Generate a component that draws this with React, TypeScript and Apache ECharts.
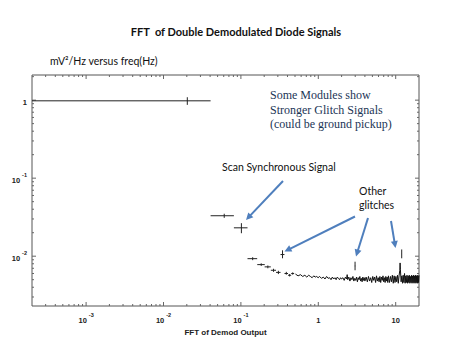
import React, { useEffect, useRef } from "react";
import * as echarts from "echarts";

// Axis ranges (Hz on x, mV^2/Hz on y, both logarithmic)
const X_MIN = 0.0002;
const X_MAX = 20;
const Y_MIN = 0.0023;
const Y_MAX = 2.1;
const BIN_HALF = 0.0203; // half bin width of the FFT (horizontal error bar)

// Low-frequency FFT bins with vertical error bars
const BIN_FREQ = [0.0203, 0.0609, 0.1015, 0.142, 0.183, 0.223, 0.264, 0.305, 0.345, 0.386, 0.426, 0.467];
const BIN_VAL = [0.98, 0.033, 0.0231, 0.0093, 0.0078, 0.0073, 0.0066, 0.0062, 0.0105, 0.006, 0.0057, 0.006];
const BIN_LO = [0.87, 0.031, 0.0197, 0.0089, 0.0075, 0.007, 0.0063, 0.0059, 0.0094, 0.0058, 0.0055, 0.0058];
const BIN_HI = [1.09, 0.035, 0.0265, 0.0097, 0.0081, 0.0076, 0.0069, 0.0065, 0.0119, 0.0063, 0.0059, 0.0062];

// Isolated glitch bins
const GLITCH_FREQ = [2.984, 11.96];
const GLITCH_VAL = [0.0075, 0.0107];
const GLITCH_LO = [0.0066, 0.0094];
const GLITCH_HI = [0.0085, 0.0122];

// Noise floor
const NOISE_FREQ = [
  0.507, 0.548, 0.588, 0.629, 0.67, 0.71, 0.751, 0.791, 0.832, 0.873, 0.913, 0.954, 0.994,
  1.04, 1.1, 1.16, 1.22, 1.28, 1.34, 1.4, 1.46, 1.52, 1.58, 1.64, 1.7, 1.76, 1.82, 1.88, 1.94, 2.0,
  2.08, 2.16, 2.24, 2.32, 2.36, 2.4, 2.48, 2.56, 2.64, 2.72, 2.8, 2.88, 2.96, 3.04, 3.12, 3.2, 3.28,
  3.36, 3.44, 3.52, 3.6, 3.68, 3.76, 3.84, 3.92, 4.0,
  4.15, 4.3, 4.45, 4.6, 4.75, 4.9, 5.05, 5.2, 5.35, 5.5, 5.65, 5.8, 5.95, 6.1, 6.25, 6.4, 6.55, 6.7,
  6.85, 7.0, 7.15, 7.3, 7.45, 7.6, 7.75, 7.9,
  8.05, 8.3, 8.55, 8.8, 9.05, 9.3, 9.55, 9.8, 10.05, 10.3, 10.55, 10.8, 11.05, 11.3, 11.4, 11.5, 11.75,
  12.0, 12.25, 12.5, 12.75, 13.0, 13.25, 13.5, 13.75, 14.0, 14.25, 14.5, 14.75, 15.0, 15.25, 15.5,
  15.75, 16.0, 16.25, 16.5, 16.75, 17.0, 17.25, 17.5, 17.75, 18.0, 18.25, 18.5, 18.75, 19.0, 19.25,
  19.5, 19.75, 20.0,
];
const NOISE_VAL = [
  0.0059, 0.0056, 0.0058, 0.0055, 0.0057, 0.0054, 0.0057, 0.0055, 0.0053, 0.0056, 0.0054, 0.0055, 0.0053,
  0.0055, 0.0052, 0.0054, 0.0051, 0.0055, 0.0052, 0.0053, 0.005, 0.0054, 0.0051, 0.0053, 0.005, 0.0054,
  0.0052, 0.005, 0.0053, 0.0051,
  0.0053, 0.0049, 0.0054, 0.0051, 0.0058, 0.005, 0.0054, 0.0048, 0.0053, 0.005, 0.0055, 0.0048, 0.0052,
  0.0049, 0.0054, 0.0047, 0.0053, 0.005, 0.0055, 0.0048, 0.0052, 0.0047, 0.0054, 0.0049, 0.0053, 0.0048,
  0.0054, 0.0047, 0.0055, 0.0048, 0.0053, 0.0046, 0.0055, 0.0049, 0.0054, 0.0046, 0.0056, 0.0048, 0.0053,
  0.0047, 0.0055, 0.0046, 0.0054, 0.0049, 0.0056, 0.0047, 0.0053, 0.0046, 0.0055, 0.0048, 0.0054, 0.0046,
  0.0056, 0.0046, 0.0055, 0.0047, 0.0057, 0.0045, 0.0056, 0.0046, 0.0055, 0.0047, 0.0057, 0.0045, 0.0056,
  0.0066, 0.0082, 0.0068, 0.0047, 0.0056, 0.0045, 0.0057, 0.0046, 0.006, 0.0045, 0.0056, 0.0046, 0.0057,
  0.0045, 0.0056, 0.0046, 0.0057, 0.0045, 0.0055, 0.0046, 0.0057, 0.0045, 0.0056, 0.0046, 0.0057, 0.0045,
  0.0056, 0.0046, 0.0057, 0.0045, 0.0056, 0.0046, 0.0057, 0.0045, 0.0056, 0.0046, 0.0057,
];

// Major tick values
const X_MAJOR = [0.001, 0.01, 0.1, 1, 10];
const Y_MAJOR = [0.01, 0.1, 1];

function minorTicks(lo: number, hi: number): number[] {
  const out: number[] = [];
  for (let e = -5; e <= 2; e++) {
    for (let m = 2; m <= 9; m++) {
      const v = m * Math.pow(10, e);
      if (v > lo * 1.0001 && v < hi * 0.9999) out.push(v);
    }
  }
  return out;
}

const TITLE = "FFT  of Double Demodulated Diode Signals";
const SUBTITLE = "mV\u00b2/Hz versus freq(Hz)";
const NOTE_LINES = ["Some Modules show", "Stronger Glitch Signals", "(could be ground pickup)"];
const SCAN_LABEL = "Scan Synchronous Signal";
const OTHER_LABEL = ["Other", "glitches"];
const X_NAME = "FFT of Demod Output";

const ARROW_COLOR = "#4f7fbd";
const ARROWS: [number, number, number, number][] = [
  [283, 181, 246, 220],
  [355, 216.5, 284.5, 251.5],
  [368, 218, 356, 256.5],
  [391, 221, 395.5, 248],
];

function arrowGraphics() {
  const out: any[] = [];
  ARROWS.forEach(([x1, y1, x2, y2]) => {
    const dx = x2 - x1;
    const dy = y2 - y1;
    const L = Math.sqrt(dx * dx + dy * dy);
    const ux = dx / L;
    const uy = dy / L;
    const head = 7;
    const hw = 3.5;
    const bx = x2 - ux * head;
    const by = y2 - uy * head;
    out.push({
      type: "line",
      shape: { x1, y1, x2: bx + ux, y2: by + uy },
      style: { stroke: ARROW_COLOR, lineWidth: 2 },
      silent: true,
    });
    out.push({
      type: "polygon",
      shape: {
        points: [
          [x2, y2],
          [bx - uy * hw, by + ux * hw],
          [bx + uy * hw, by - ux * hw],
        ],
      },
      style: { fill: ARROW_COLOR },
      silent: true,
    });
  });
  return out;
}

function supLabel(v: number): string {
  const e = Math.round(Math.log10(v));
  if (e === 0) return "{b|1}";
  if (e === 1) return "{b|10}";
  return "{b|10}{s|" + e + "}";
}

const labelRich = {
  b: { fontSize: 7.5, fontWeight: "bold", color: "#222", fontFamily: "Liberation Sans", verticalAlign: "bottom", lineHeight: 12 },
  s: { fontSize: 5.5, fontWeight: "bold", color: "#222", fontFamily: "Liberation Sans", verticalAlign: "top", lineHeight: 12, padding: [0, 0, 0, 2] },
};

export default function App() {
  const ref = useRef<HTMLDivElement>(null);
  useEffect(() => {
    if (!ref.current) return;
    const chart = echarts.init(ref.current, undefined, { renderer: "svg" });

    const errData = BIN_FREQ.map((f, i) => [f, BIN_VAL[i], Math.max(f - BIN_HALF, X_MIN), f + BIN_HALF, BIN_LO[i], BIN_HI[i]]).concat(
      GLITCH_FREQ.map((f, i) => [f, GLITCH_VAL[i], f - BIN_HALF, f + BIN_HALF, GLITCH_LO[i], GLITCH_HI[i]])
    );

    const xTicks = X_MAJOR.map((v) => [v, 1, 4]).concat(minorTicks(X_MIN, X_MAX).map((v) => [v, 1, 2]));
    const yTicks = Y_MAJOR.map((v) => [1, v, 4]).concat(minorTicks(Y_MIN, Y_MAX).map((v) => [1, v, 2]));

    const tickStyle = { stroke: "#666", lineWidth: 1 };

    chart.setOption({
      animation: false,
      backgroundColor: "#ffffff",
      grid: { left: 32, right: 55, top: 75, bottom: 49, show: true, borderColor: "#555", borderWidth: 1, outerBoundsMode: "none" } as any,
      xAxis: {
        type: "log",
        min: X_MIN,
        max: X_MAX,
        logBase: 10,
        splitLine: { show: false },
        axisLine: { show: false },
        axisTick: { show: false },
        axisLabel: {
          showMinLabel: false,
          showMaxLabel: false,
          margin: 6,
          formatter: (v: number) => supLabel(v),
          rich: labelRich,
        },
        name: X_NAME,
        nameLocation: "middle",
        nameGap: 11,
        nameTextStyle: { fontSize: 8, fontWeight: "bold", color: "#222", fontFamily: "Liberation Sans" },
      },
      yAxis: {
        type: "log",
        min: Y_MIN,
        max: Y_MAX,
        logBase: 10,
        splitLine: { show: false },
        axisLine: { show: false },
        axisTick: { show: false },
        axisLabel: {
          showMinLabel: false,
          showMaxLabel: false,
          margin: 5,
          formatter: (v: number) => supLabel(v),
          rich: labelRich,
        },
      },
      series: [
        {
          type: "custom",
          name: "xticks",
          data: xTicks,
          encode: { x: 0, y: 1 },
          silent: true,
          renderItem: (params: any, api: any) => {
            const p = api.coord([api.value(0), 1]);
            const len = api.value(2);
            const cs = params.coordSys;
            return {
              type: "group",
              children: [
                { type: "line", shape: { x1: p[0], y1: cs.y + cs.height, x2: p[0], y2: cs.y + cs.height - len }, style: tickStyle },
                { type: "line", shape: { x1: p[0], y1: cs.y, x2: p[0], y2: cs.y + len }, style: tickStyle },
              ],
            };
          },
        },
        {
          type: "custom",
          name: "yticks",
          data: yTicks,
          encode: { x: 0, y: 1 },
          silent: true,
          renderItem: (params: any, api: any) => {
            const p = api.coord([1, api.value(1)]);
            const len = api.value(2);
            const cs = params.coordSys;
            return {
              type: "group",
              children: [
                { type: "line", shape: { x1: cs.x, y1: p[1], x2: cs.x + len, y2: p[1] }, style: tickStyle },
                { type: "line", shape: { x1: cs.x + cs.width, y1: p[1], x2: cs.x + cs.width - len, y2: p[1] }, style: tickStyle },
              ],
            };
          },
        },
        {
          type: "line",
          name: "noise",
          data: NOISE_FREQ.map((f, i) => [f, NOISE_VAL[i]]),
          showSymbol: false,
          symbol: "none",
          lineStyle: { color: "#111", width: 1 },
          silent: true,
        },
        {
          type: "custom",
          name: "bins",
          data: errData,
          encode: { x: 0, y: 1 },
          clip: true,
          silent: true,
          renderItem: (params: any, api: any) => {
            const c = api.coord([api.value(0), api.value(1)]);
            const l = api.coord([api.value(2), api.value(1)]);
            const r = api.coord([api.value(3), api.value(1)]);
            const lo = api.coord([api.value(0), api.value(4)]);
            const hi = api.coord([api.value(0), api.value(5)]);
            const st = { stroke: "#222", lineWidth: 1 };
            return {
              type: "group",
              children: [
                { type: "line", shape: { x1: l[0], y1: c[1], x2: r[0], y2: c[1] }, style: st },
                { type: "line", shape: { x1: c[0], y1: lo[1], x2: c[0], y2: hi[1] }, style: st },
              ],
            };
          },
        },
      ],
      graphic: [
        {
          type: "text",
          x: 236,
          y: 31,
          style: { text: TITLE, font: "bold 11px Lato", fill: "#111", textAlign: "center", textVerticalAlign: "middle" },
        },
        {
          type: "text",
          x: 50,
          y: 61,
          style: { text: SUBTITLE, font: "10.5px Lato", fill: "#111", textAlign: "left", textVerticalAlign: "middle" },
        },
        ...NOTE_LINES.map((t, i) => ({
          type: "text",
          x: 270,
          y: 95 + i * 14.5,
          style: { text: t, font: "12px 'Liberation Serif'", fill: "#1b3556", textAlign: "left", textVerticalAlign: "middle" },
        })),
        {
          type: "text",
          x: 222,
          y: 166.5,
          style: { text: SCAN_LABEL, font: "10.5px Lato", fill: "#111", textAlign: "left", textVerticalAlign: "middle" },
        },
        ...OTHER_LABEL.map((t, i) => ({
          type: "text",
          x: 359,
          y: 190.5 + i * 14,
          style: { text: t, font: "10.5px Lato", fill: "#111", textAlign: "left", textVerticalAlign: "middle" },
        })),
        ...arrowGraphics(),
      ],
    });
    return () => chart.dispose();
  }, []);
  return <div ref={ref} style={{ width: 474, height: 355, position: "absolute", left: 0, top: 0 }} />;
}
